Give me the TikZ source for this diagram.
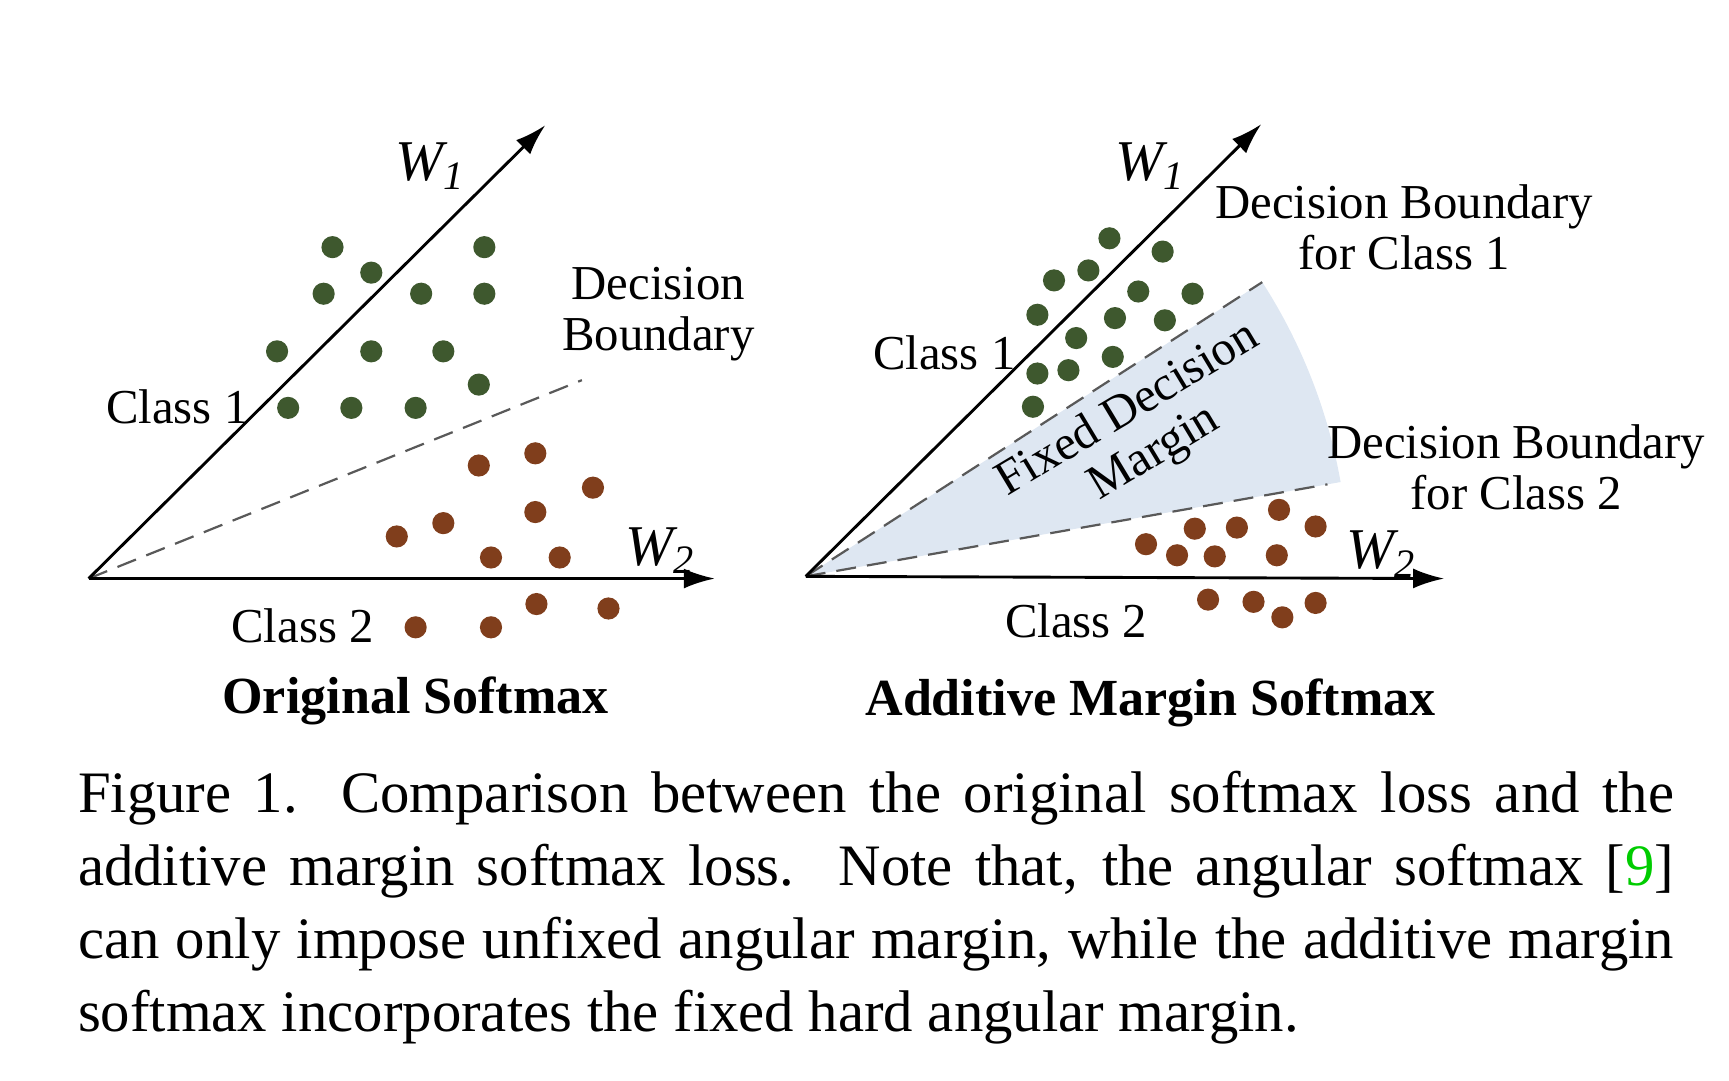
\documentclass[tikz,border=0pt]{standalone}
\usepackage{fontspec}
\setmainfont{Liberation Serif}
\usetikzlibrary{arrows.meta}
\begin{document}
\begin{tikzpicture}[x=0.5pt,y=-0.5pt,
 lab/.style={font=\fontsize{22}{23}\selectfont,align=center,inner sep=0pt},
 ttl/.style={font=\fontsize{23.5}{25}\selectfont\bfseries,inner sep=0pt},
 wl/.style={font=\fontsize{26}{28}\selectfont\itshape,inner sep=0pt},
 cl/.style={anchor=base west,inner sep=0pt,font=\fontsize{26.5}{30}\selectfont},
 ax/.style={line width=1.3pt,-{Latex[length=14pt,width=9pt]}},
 dsh/.style={dash pattern=on 9pt off 5pt,gray!70!black,line width=1pt}]
\useasboundingbox (0,0) rectangle (1560,975);
\definecolor{gd}{RGB}{62,88,46}\definecolor{bd}{RGB}{128,62,28}\definecolor{fan}{RGB}{222,231,242}
\tikzset{g/.style={circle,fill=gd,minimum size=10pt,inner sep=0pt},b/.style={circle,fill=bd,minimum size=10pt,inner sep=0pt}}
% left
\coordinate (o1) at (80,522);
\coordinate (w1a) at (492,113);
\coordinate (w2a) at (645,522);
\coordinate (d1) at (525,343);
\draw[dsh] (o1) -- (d1);
\draw[ax] (o1) -- (w1a);
\draw[ax] (o1) -- (w2a);
\foreach \p in {(300,223),(437,223),(335,246),(292,265),(380,265),(437,265),(250,317),(335,317),(400,317),(432,347),(260,368),(317,368),(375,368)} \node[g] at \p {};
\foreach \p in {(483,409),(432,420),(535,440),(483,462),(400,472),(358,484),(443,503),(505,503),(484,545),(549,549),(375,566),(443,566)} \node[b] at \p {};
\node[wl] (lw1) at (388,150) {W\textsubscript{1}};
\node[wl] (lw2) at (596,497) {W\textsubscript{2}};
\node[lab] (ldb) at (594,283) {Decision\\Boundary};
\node[lab] (lc1) at (160,367) {Class 1};
\node[lab] (lc2) at (273,565) {Class 2};
\node[ttl] (lt) at (375,632) {Original Softmax};
% right
\coordinate (o2) at (727,520);
\path (o2) ++(-32.8:490) coordinate (e1);
\path (o2) ++(-10:478) coordinate (e2);
\fill[fan] (o2) -- (e1) arc[start angle=-32.8,end angle=-10,radius=490] -- cycle;
\draw[dsh] (o2) -- (e1);
\draw[dsh] (o2) -- (e2);
\coordinate (w1b) at (1138,112);
\coordinate (w2b) at (1303,522);
\draw[ax] (o2) -- (w1b);
\draw[ax] (o2) -- (w2b);
\foreach \p in {(1001,215),(1049,227),(951,253),(982,244),(1027,263),(1076,265),(936,284),(1006,287),(1051,289),(971,305),(1004,322),(936,337),(964,334),(932,367)} \node[g] at \p {};
\foreach \p in {(1154,460),(1078,477),(1116,476),(1187,475),(1034,491),(1062,501),(1096,502),(1152,501),(1090,541),(1131,543),(1187,544),(1157,557)} \node[b] at \p {};
\node[wl] (rw1) at (1038,150) {W\textsubscript{1}};
\node[wl] (rw2) at (1246,500) {W\textsubscript{2}};
\node[lab] (rdb1) at (1267,205) {Decision Boundary\\for Class 1};
\node[lab] (rdb2) at (1368,422) {Decision Boundary\\for Class 2};
\node[lab,rotate=31] (rfm) at (1030,390) {Fixed Decision\\Margin};
\node[lab] (rc1) at (852,318) {Class 1};
\node[lab] (rc2) at (971,560) {Class 2};
\node[ttl] (rt) at (1038,634) {Additive Margin Softmax};
% caption
\node[cl] (cap1) at (70,733) {\makebox[720pt][s]{Figure 1. Comparison between the original softmax loss and the}};
\node[cl] (cap2) at (70,799) {\makebox[720pt][s]{additive margin softmax loss.\ \ Note that, the angular softmax [\textcolor{green!80!black}{9}]}};
\node[cl] (cap3) at (70,865) {\makebox[720pt][s]{can only impose unfixed angular margin, while the additive margin}};
\node[cl] (cap4) at (70,931) {softmax incorporates the fixed hard angular margin.};
\end{tikzpicture}
\end{document}
